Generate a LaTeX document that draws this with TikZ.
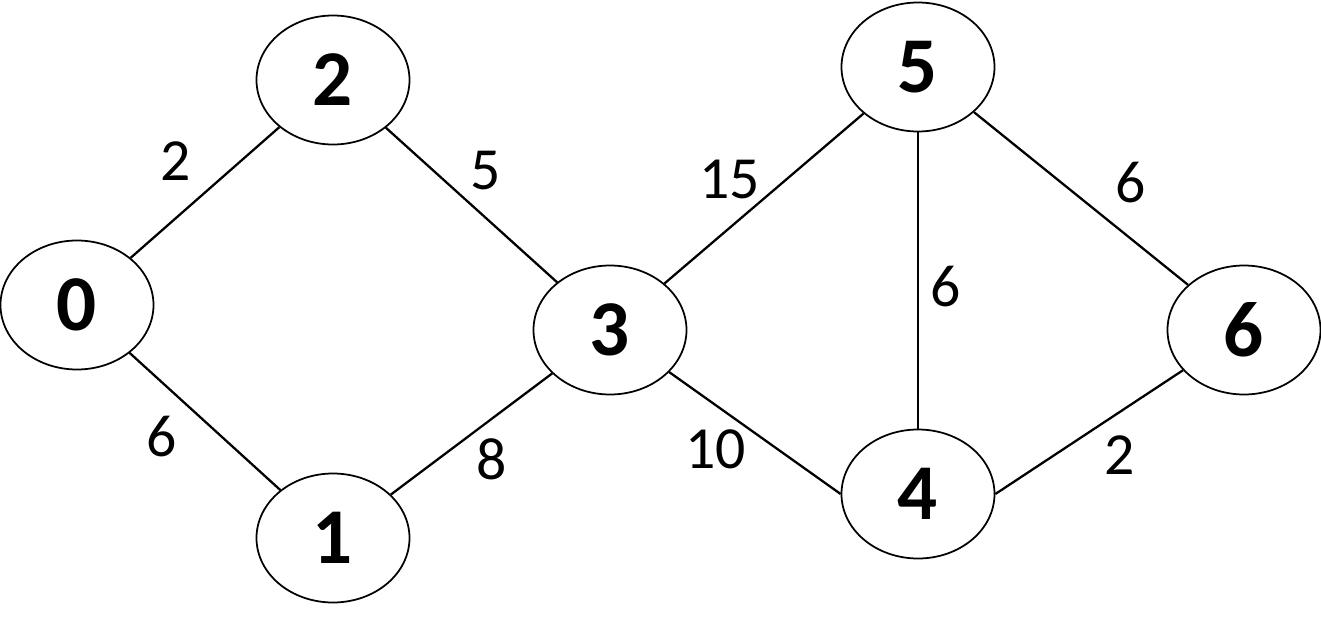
\documentclass[tikz,border=0pt]{standalone}
\usepackage{fontspec}
\setmainfont{Carlito}
\usetikzlibrary{positioning, shapes.geometric}

\tikzset{
	vertex/.style={ellipse, draw, line width=0.5pt, minimum width=1.53cm, minimum height=1.29cm, inner sep=0pt, font=\fontsize{22.5}{24}\selectfont\bfseries},
	weight/.style={font=\fontsize{17}{19}\selectfont},
}

\begin{document}
\begin{tikzpicture}[-, line width=0.65pt, on grid]
		\useasboundingbox (0,0) rectangle (13.21,-6.29);
		%sommets
		\node[vertex] (n0) at (0.77,-3.05) {0};
		\node[vertex, above right = 2.25cm and 2.56cm of n0] (n2) {2};
		\node[vertex, below right = 2.33cm and 2.56cm of n0] (n1) {1};
		\node[vertex, below right = 0.25cm and 5.33cm of n0] (n3) {3};
		\node[vertex, above right = 2.63cm and 3.08cm of n3] (n5) {5};
		\node[vertex, below right = 1.64cm and 3.08cm of n3] (n4) {4};
		\node[vertex, right = 6.34cm of n3] (n6) {6};
		
		%arêtes
		\draw (n0) edge node[weight, pos=0.49, above left] {2} (n2);
		\draw (n0) edge node[weight, pos=0.4, below left, yshift=0.04cm] {6} (n1);
		\draw (n2) edge node[weight, pos=0.44, above right, xshift=-0.04cm, yshift=-0.07cm] {5} (n3);
		\draw (n1) edge node[weight, pos=0.52, below right, xshift=-0.11cm, yshift=0.06cm] {8} (n3);
		\draw (n3) edge node[weight, pos=0.45, above left, xshift=0.19cm, yshift=-0.05cm] {15} (n5);
		\draw (n3) edge node[weight, pos=0.4, below left, xshift=0.21cm, yshift=0.04cm] {10} (n4.west);
		\draw (n5) edge node[weight, pos=0.52, right] {6} (n4);
		\draw (n5) edge node[weight, pos=0.6, above right] {6} (n6);
		\draw (n4.east) edge node[weight, pos=0.55, below right, xshift=-0.07cm, yshift=0.03cm] {2} (n6);
		
	\end{tikzpicture}
\end{document}
